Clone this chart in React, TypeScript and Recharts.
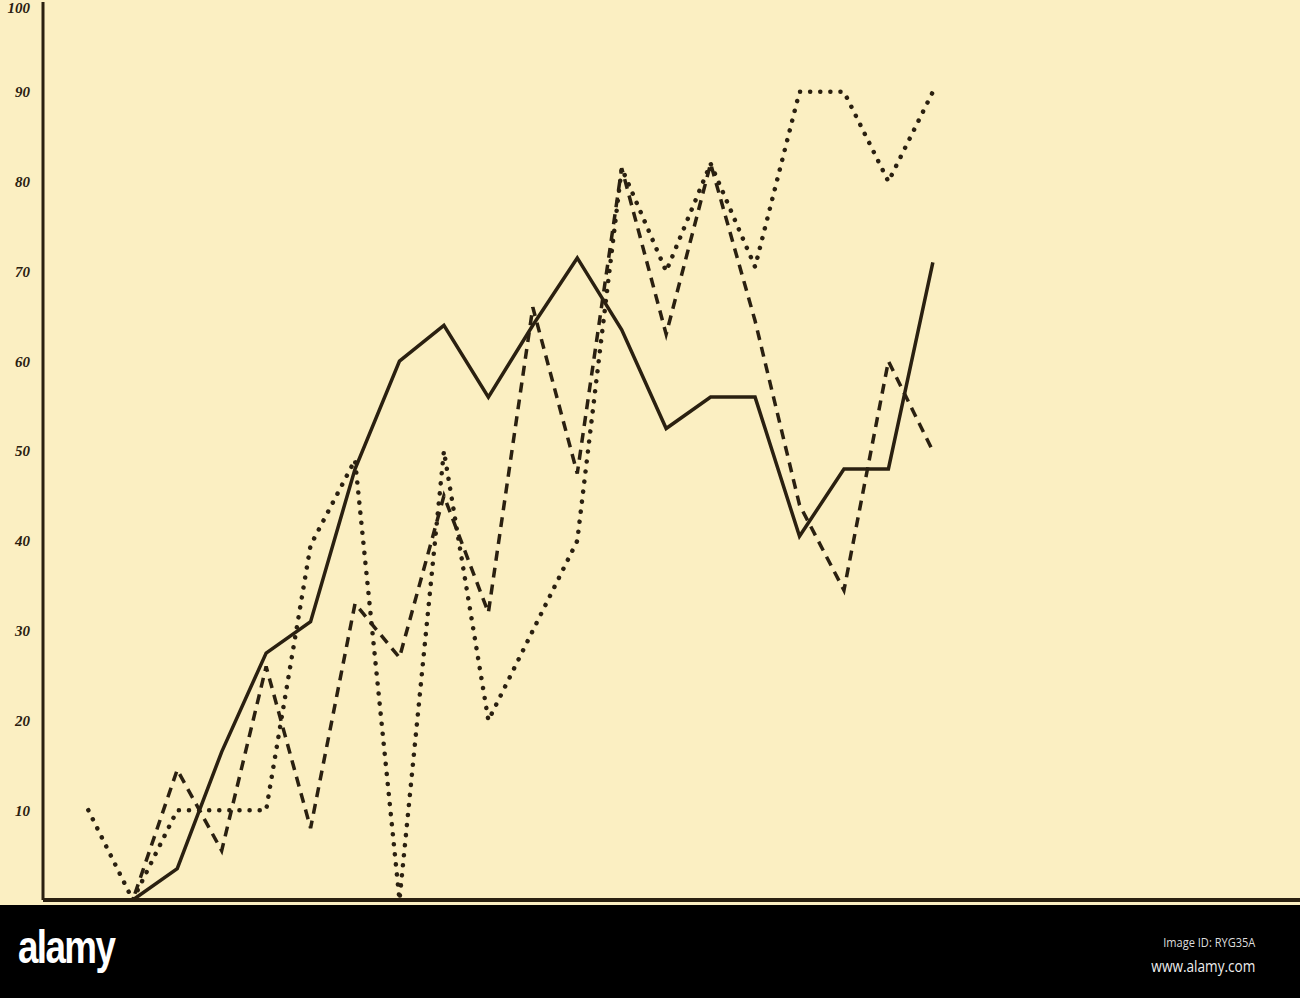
import React from "react";
import { LineChart, Line, XAxis, YAxis } from "recharts";

const indices = [0, 1, 2, 3, 4, 5, 6, 7, 8, 9, 10, 11, 12, 13, 14, 15, 16, 17, 18, 19];
const solidValues = [0, 0, 3.5, 16.5, 27.5, 31, 48, 60, 64, 56, 64, 71.5, 63.5, 52.5, 56, 56, 40.5, 48, 48, 71];
const dashedValues = [0, 0, 14.5, 5.5, 26, 8, 33, 27, 45, 32, 66, 47.5, 81.5, 63, 82, 64.5, 44, 34.5, 60, 50];
const dottedValues = [10, 0, 10, 10, 10, 39.5, 49, 0, 50, 20, 30, 40, 81.5, 70, 82, 70.5, 90, 90, 80, 90];
const yTicks = [10, 20, 30, 40, 50, 60, 70, 80, 90, 100];

const data = indices.map((i, k) => ({
  i,
  solid: solidValues[k],
  dashed: dashedValues[k],
  dotted: dottedValues[k],
}));

const INK = "#2a2010";
const PAPER = "#fbefc2";

const YTick = (props: any) => {
  const { x, y, payload } = props;
  const ty = Math.max(y, 8);
  return (
    <text
      x={x}
      y={ty}
      dy="0.355em"
      textAnchor="end"
      fill={INK}
      fontSize={15}
      fontStyle="italic"
      fontWeight="bold"
      fontFamily="Liberation Serif"
    >
      {payload.value}
    </text>
  );
};

export default function App() {
  return (
    <div style={{ position: "absolute", left: 0, top: 0, width: 1300, height: 998, background: PAPER, overflow: "hidden" }}>
      <LineChart width={1300} height={905} data={data} margin={{ top: 2, right: 0, bottom: 4, left: 0 }}>
        <XAxis
          dataKey="i"
          type="number"
          domain={[-1.02, 27.26]}
          allowDataOverflow
          ticks={[]}
          tick={false}
          tickLine={false}
          height={1}
          axisLine={{ stroke: INK, strokeWidth: 4 }}
        />
        <YAxis
          type="number"
          domain={[0, 100]}
          ticks={yTicks}
          interval={0}
          width={43}
          tickLine={false}
          tickMargin={7}
          axisLine={{ stroke: INK, strokeWidth: 3 }}
          tick={<YTick />}
        />
        <Line
          dataKey="dotted"
          stroke={INK}
          strokeWidth={4.5}
          strokeDasharray="0.1 10"
          strokeLinecap="round"
          dot={false}
          activeDot={false}
          isAnimationActive={false}
          type="linear"
        />
        <Line
          dataKey="dashed"
          stroke={INK}
          strokeWidth={3.5}
          strokeDasharray="10 7"
          dot={false}
          activeDot={false}
          isAnimationActive={false}
          type="linear"
        />
        <Line
          dataKey="solid"
          stroke={INK}
          strokeWidth={3.5}
          dot={false}
          activeDot={false}
          isAnimationActive={false}
          type="linear"
        />
      </LineChart>
      <div style={{ position: "absolute", left: 0, top: 905, width: 1300, height: 93, background: "#000" }}>
        <div style={{ position: "absolute", left: 18, top: 18, color: "#fff", fontFamily: "Liberation Sans Narrow, Liberation Sans", fontWeight: "bold", fontSize: 46, letterSpacing: -2, transform: "scaleX(0.8)", transformOrigin: "left top", lineHeight: "48px" }}>
          alamy
        </div>
        <div style={{ position: "absolute", right: 45, top: 28, color: "#ddd", fontFamily: "Open Sans", fontSize: 13, transform: "scaleX(0.85)", transformOrigin: "right top" }}>
          Image ID: RYG35A
        </div>
        <div style={{ position: "absolute", right: 45, top: 50, color: "#eee", fontFamily: "Open Sans", fontSize: 16, transform: "scaleX(0.85)", transformOrigin: "right top" }}>
          www.alamy.com
        </div>
      </div>
    </div>
  );
}
